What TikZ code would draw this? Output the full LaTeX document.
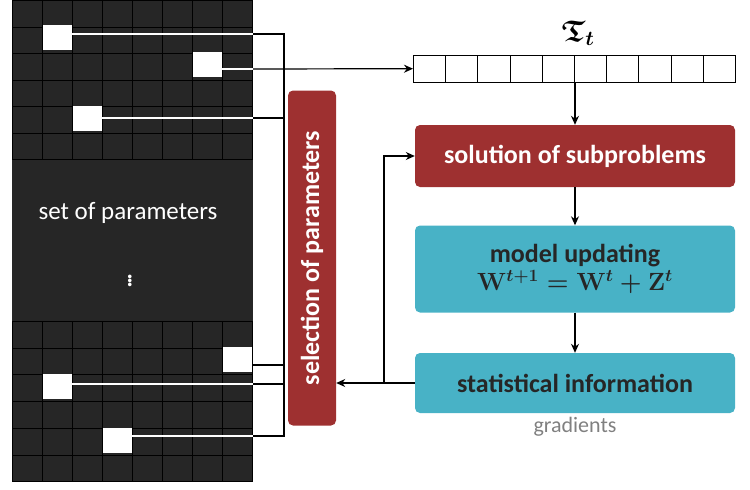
\documentclass[tikz,border=0pt]{standalone}
\usepackage{fontspec}
\setmainfont{Carlito}
\usepackage{amsmath,amssymb}
\usetikzlibrary{positioning,arrows.meta,calc}
\definecolor{gridgray}{RGB}{38,38,38}
\definecolor{boxred}{RGB}{158,48,48}
\definecolor{boxblue}{RGB}{72,178,198}
\tikzset{
  box/.style = {rectangle, rounded corners=5pt, draw=none,
                minimum width=320pt, align=center,
                font=\fontsize{26}{30}\selectfont\bfseries, text=white},
  red box/.style  = {box, fill=boxred, minimum height=62pt},
  blue box/.style = {box, fill=boxblue, text=black!85},
  cell/.style = {draw=black, fill=gridgray, minimum width=30pt,
                 minimum height=26.7pt, inner sep=0pt},
  sel/.style  = {fill=white, minimum width=29pt, minimum height=25pt, inner sep=0pt},
  arr/.style  = {-{Stealth[length=9pt,width=8pt]}, line width=1.2pt},
  bus/.style  = {line width=1.2pt},
  wline/.style= {draw=white, line width=1.5pt}
}
\begin{document}
\begin{tikzpicture}[x=1pt,y=-1pt]
  \useasboundingbox (0,0) rectangle (750,490);
  % parameter grid
  \fill[gridgray] (12,0) rectangle (253,482);
  \foreach \i in {0,...,7}{
    \foreach \j in {0,...,5}{
      \node[cell,anchor=north west] at (12+30*\i,26.5*\j) {};
      \node[cell,anchor=north west] at (12+30*\i,321+26.7*\j) {};
    }
  }
  \node[text=white,font=\fontsize{25}{30}\selectfont] (setp) at (128,213) {set of parameters};
  \node[text=white,font=\fontsize{30}{30}\selectfont, inner sep=0pt] (dots) at (130,278) {$\boldsymbol{\vdots}$};
  % selected parameters
  \node[sel,anchor=north west] (p1) at (43,25) {};
  \node[sel,anchor=north west] (p2) at (193,52) {};
  \node[sel,anchor=north west] (p3) at (73,106) {};
  \node[sel,anchor=north west] (p4) at (223,347) {};
  \node[sel,anchor=north west] (p5) at (43,374) {};
  \node[sel,anchor=north west] (p6) at (103,428) {};
  \coordinate (b1) at (284,34);
  \coordinate (b2) at (253,69);
  \coordinate (b3) at (284,118);
  \coordinate (b4) at (284,365);
  \coordinate (b5) at (284,384);
  \coordinate (b6) at (284,436);
  \draw[wline] (p1.east |- b1) -- (253,34);
  \draw[wline] (p3.east |- b3) -- (253,118);
  \draw[wline] (p5.east |- b5) -- (253,384);
  \draw[wline] (p6.east |- b6) -- (253,436);
  \draw[wline] (p2.east |- b2) -- (b2);
  \draw[bus] (253,34) -- (b1) -- (b6) -- (253,436);
  \draw[bus] (253,118) -- (b3);
  \draw[bus] (p4.east |- b4) -- (b4);
  \draw[bus] (253,384) -- (b5);
  % index set
  \foreach \k in {0,...,9}
    \node[draw=black, minimum width=32.2pt, minimum height=27pt, inner sep=0pt,
          anchor=north west] (c\k) at (413+32.2*\k,55) {};
  \node[font=\fontsize{30}{30}\selectfont] (T) at (578,33) {$\boldsymbol{\mathfrak{T}_t}$};
  \coordinate (arrtop) at (575,82);
  \draw[arr] (b2) -- (c0.west);
  % right column
  \node[red box, rotate=90, minimum width=335pt, minimum height=48pt] (select)
    at (312,258) {selection of parameters};
  \node[red box] (solve) at (575,156) {solution of subproblems};
  \node[blue box, minimum height=87pt] (update) at (575,269)
    {model updating\\[-2pt] $\boldsymbol{\mathbf{W}^{t+1}=\mathbf{W}^{t}+\mathbf{Z}^{t}}$};
  \node[blue box, minimum height=60pt] (stat) at (575,383) {statistical information};
  \node[font=\fontsize{22}{26}\selectfont, text=gray, below=0pt of stat] (grad) {gradients};
  \draw[arr] (arrtop) -- (solve.north);
  \draw[arr] (solve) -- (update);
  \draw[arr] (update) -- (stat);
  \draw[arr] (stat.west) -- (stat.west -| select.south);
  \draw[arr] (384,383) |- (solve.west);
\end{tikzpicture}
\end{document}
